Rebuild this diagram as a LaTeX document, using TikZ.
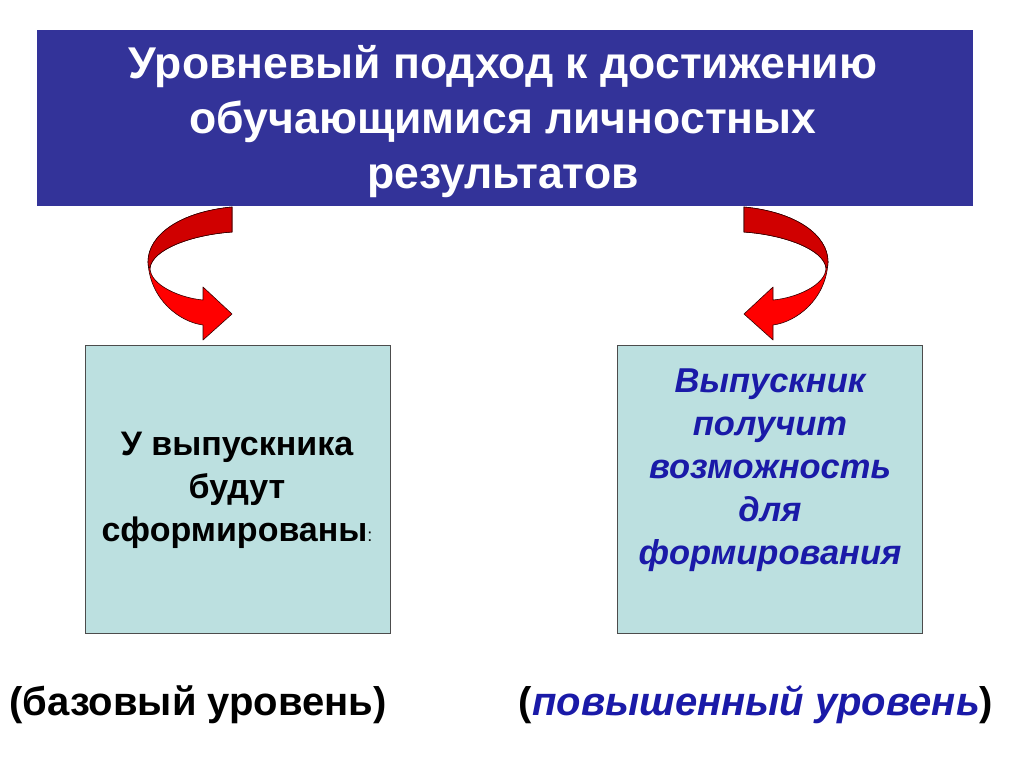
\documentclass[tikz,border=0pt]{standalone}
\usepackage{fontspec}
\setmainfont{Liberation Sans}
\definecolor{hdr}{HTML}{333399}
\definecolor{boxf}{HTML}{BCE0E0}
\definecolor{txtb}{HTML}{1A1AA8}
\definecolor{arr}{HTML}{FF0000}
\definecolor{arrd}{HTML}{D00000}
\tikzset{
  box/.style={draw=black!70, fill=boxf, line width=0.8pt},
  arrowshape/.style={fill=arr, draw=black!80!red, line width=0.6pt, line join=round},
}
\begin{document}
\begin{tikzpicture}[x=1pt,y=-1pt]
\useasboundingbox (0,0) rectangle (1024,768);
\fill[white] (0,0) rectangle (1024,768);
\node[fill=hdr, minimum width=936pt, minimum height=176pt, anchor=north west, inner sep=0] (title) at (37,30) {};
\node[text=white, font=\bfseries\fontsize{44.5}{55}\selectfont, align=center] (tt) at (503,122) {Уровневый подход к достижению\\обучающимися личностных\\результатов};
\node[box, minimum width=305pt, minimum height=288pt, anchor=north west, inner sep=0] (lb) at (85,345) {};
\node[box, minimum width=305pt, minimum height=288pt, anchor=north west, inner sep=0] (rb) at (617,345) {};
\node[font=\bfseries\fontsize{34}{43}\selectfont, align=center] (lt) at (237,490) {У выпускника\\будут\\сформированы{\mdseries\fontsize{18}{18}\selectfont:}};
\node[font=\bfseries\itshape\fontsize{34.5}{43}\selectfont, text=txtb, align=center] (rt) at (770,470) {Выпускник\\получит\\возможность\\для\\формирования};
\node[font=\bfseries\fontsize{40}{42}\selectfont] (bl) at (198,705) {(базовый уровень)};
\node[font=\bfseries\fontsize{40}{42}\selectfont] (br) at (756,705) {(\textcolor{txtb}{\itshape повышенный уровень})};
\foreach \s/\o in {1/0, -1/976}{
\begin{scope}[xshift=\o pt, xscale=\s]
\path[arrowshape] (232,207) .. controls (180,212) and (148,235) .. (148,262)
  .. controls (150,300) and (180,322) .. (203,325)
  -- (203,340) -- (232,314) -- (203,287) -- (203,300)
  .. controls (180,298) and (150,285) .. (150,268)
  .. controls (152,250) and (190,235) .. (232,232) -- cycle;
\path[fill=arrd, draw=black!80!red, line width=0.6pt] (232,207) .. controls (180,212) and (148,235) .. (148,262)
  .. controls (148,266) and (149,268) .. (150,268)
  .. controls (152,250) and (190,235) .. (232,232) -- cycle;
\end{scope}}
\end{tikzpicture}
\end{document}
